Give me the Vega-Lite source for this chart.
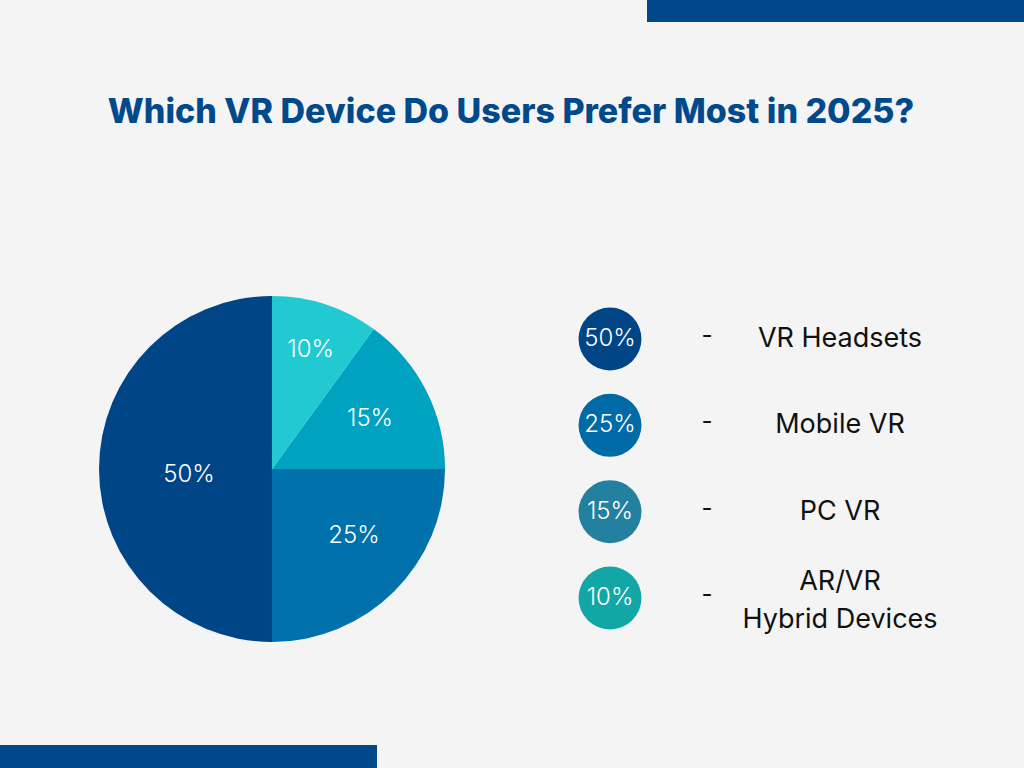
{
  "$schema": "https://vega.github.io/schema/vega-lite/v6.json",
  "width": 1024,
  "height": 768,
  "autosize": {"type": "fit", "contains": "padding"},
  "padding": 0,
  "background": "#f4f4f4",
  "config": {"view": {"stroke": null}, "font": "Inter"},
  "data": {
    "values": [
      {"device": "VR Headsets", "lines": ["VR Headsets"], "share": 50},
      {"device": "Mobile VR", "lines": ["Mobile VR"], "share": 25},
      {"device": "PC VR", "lines": ["PC VR"], "share": 15},
      {"device": "AR/VR Hybrid Devices", "lines": ["AR/VR", "Hybrid Devices"], "share": 10}
    ]
  },
  "transform": [{"calculate": "datum.share + '%'", "as": "pct"}],
  "layer": [
    {
      "encoding": {
        "x": {"datum": 0, "type": "quantitative", "scale": {"domain": [0, 1024], "nice": false, "zero": false}, "axis": null},
        "y": {"datum": 0, "type": "quantitative", "scale": {"domain": [0, 768], "nice": false, "zero": false, "reverse": true}, "axis": null}
      },
      "layer": [
        {
          "data": {"values": [{"band": "top"}]},
          "mark": {"type": "rect", "color": "#00488a"},
          "encoding": {
            "x": {"datum": 647, "type": "quantitative"},
            "x2": {"datum": 1024},
            "y": {"datum": 0, "type": "quantitative"},
            "y2": {"datum": 22}
          }
        },
        {
          "data": {"values": [{"band": "bottom"}]},
          "mark": {"type": "rect", "color": "#00488a"},
          "encoding": {
            "x": {"datum": 0, "type": "quantitative"},
            "x2": {"datum": 377},
            "y": {"datum": 745, "type": "quantitative"},
            "y2": {"datum": 768}
          }
        },
        {
          "data": {"values": [{"title": "Which VR Device Do Users Prefer Most in 2025?"}]},
          "mark": {"type": "text", "font": "Inter", "fontWeight": 800, "fontSize": 34, "color": "#004a8b", "align": "center", "baseline": "middle"},
          "encoding": {
            "x": {"datum": 511, "type": "quantitative"},
            "y": {"datum": 113, "type": "quantitative"},
            "text": {"field": "title"}
          }
        },
        {
          "mark": {"type": "arc", "outerRadius": 173},
          "encoding": {
            "x": {"datum": 272, "type": "quantitative"},
            "y": {"datum": 469, "type": "quantitative"},
            "theta": {"field": "share", "type": "quantitative", "stack": true},
            "order": {"field": "share", "sort": "ascending"},
            "color": {
              "field": "device",
              "type": "nominal",
              "scale": {
                "domain": ["VR Headsets", "Mobile VR", "PC VR", "AR/VR Hybrid Devices"],
                "range": ["#004687", "#0071aa", "#00a2c2", "#21cad1"]
              },
              "legend": null
            }
          }
        },
        {
          "mark": {
            "type": "text",
            "radius": {"expr": "datum.share == 10 ? 125 : datum.share == 15 ? 110 : datum.share == 25 ? 106 : 83"},
            "dx": {"expr": "datum.share == 25 ? 7 : 0"},
            "dy": {"expr": "datum.share == 50 ? 6 : datum.share == 25 ? -8 : 0"},
            "fontSize": 24,
            "fontWeight": 300,
            "color": "#ffffff",
            "align": "center",
            "baseline": "middle"
          },
          "encoding": {
            "x": {"datum": 272, "type": "quantitative"},
            "y": {"datum": 469, "type": "quantitative"},
            "theta": {"field": "share", "type": "quantitative", "stack": true},
            "order": {"field": "share", "sort": "ascending"},
            "text": {"field": "pct"}
          }
        }
      ]
    },
    {
      "encoding": {
        "y": {
          "field": "device",
          "type": "nominal",
          "scale": {"domain": ["VR Headsets", "Mobile VR", "PC VR", "AR/VR Hybrid Devices"], "range": [339, 598], "padding": 0},
          "axis": null
        }
      },
      "layer": [
        {
          "mark": {"type": "circle", "size": 3960, "opacity": 1},
          "encoding": {
            "x": {"datum": 610, "type": "quantitative"},
            "fill": {
              "field": "device",
              "type": "nominal",
              "scale": {
                "domain": ["VR Headsets", "Mobile VR", "PC VR", "AR/VR Hybrid Devices"],
                "range": ["#004687", "#006aa6", "#23809f", "#12a6a6"]
              },
              "legend": null
            }
          }
        },
        {
          "mark": {"type": "text", "fontSize": 24, "fontWeight": 300, "color": "#ffffff", "align": "center", "baseline": "middle"},
          "encoding": {
            "x": {"datum": 610, "type": "quantitative"},
            "text": {"field": "pct"}
          }
        },
        {
          "mark": {"type": "text", "fontSize": 24, "color": "#111111", "align": "center", "baseline": "middle", "dy": -3},
          "encoding": {
            "x": {"datum": 707, "type": "quantitative"},
            "text": {"value": "-"}
          }
        },
        {
          "mark": {
            "type": "text",
            "fontSize": 27,
            "fontWeight": 400,
            "color": "#111111",
            "align": "center",
            "baseline": "middle",
            "lineHeight": 38,
            "dy": {"expr": "length(datum.lines) > 1 ? -16 : 0"}
          },
          "encoding": {
            "x": {"datum": 840, "type": "quantitative"},
            "text": {"field": "lines"}
          }
        }
      ]
    }
  ],
  "resolve": {"scale": {"y": "independent"}}
}
